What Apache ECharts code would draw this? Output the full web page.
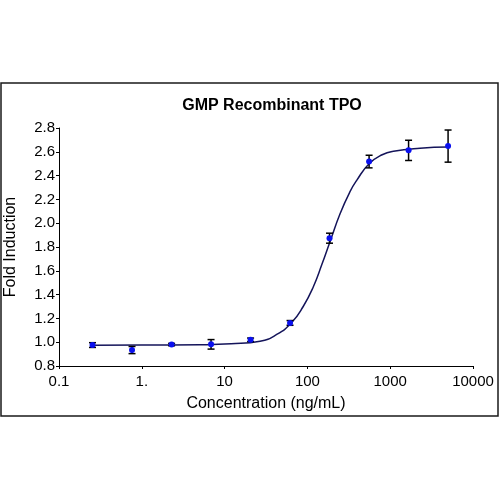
<!DOCTYPE html>
<html>
<head>
<meta charset="utf-8">
<script src="https://cdn.jsdelivr.net/npm/echarts@6/dist/echarts.min.js"></script>
<style>html,body{margin:0;padding:0;background:#fff}#c{width:500px;height:500px}</style>
</head>
<body>
<div id="c"></div>
<script>
var concentrations = [0.254, 0.762, 2.29, 6.86, 20.6, 61.7, 185, 556, 1667, 5000];
var foldInduction = [0.976, 0.934, 0.98, 0.982, 1.02, 1.162, 1.874, 2.518, 2.612, 2.648];
var errorHalf = [0.02, 0.03, 0.01, 0.04, 0.015, 0.02, 0.042, 0.053, 0.085, 0.135];
var curveX = [0.254, 1, 5, 12, 26.8, 42.6, 64.6, 89, 118, 149, 193, 248, 327, 394, 556, 800, 1096, 2290, 5000];
var curveY = [0.975, 0.976, 0.979, 0.987, 1.008, 1.065, 1.165, 1.30, 1.466, 1.65, 1.87, 2.08, 2.265, 2.36, 2.50, 2.575, 2.605, 2.63, 2.64];
var yTicks = ['0.8','1.0','1.2','1.4','1.6','1.8','2.0','2.2','2.4','2.6','2.8'];
var xTickLabels = {'0.1':'0.1','1':'1.','10':'10','100':'100','1000':'1000','10000':'10000'};

var FONT = '"Liberation Sans", Arial, sans-serif';
var chart = echarts.init(document.getElementById('c'), null, {renderer: 'canvas'});

var pts = concentrations.map(function (c, i) { return [c, foldInduction[i]]; });
var errs = concentrations.map(function (c, i) { return [c, foldInduction[i] - errorHalf[i], foldInduction[i] + errorHalf[i]]; });
var curve = curveX.map(function (c, i) { return [c, curveY[i]]; });

chart.setOption({
  animation: false,
  backgroundColor: '#fff',
  title: {
    text: 'GMP Recombinant TPO',
    left: 267, top: 93, textAlign: 'center',
    textStyle: {fontFamily: FONT, fontSize: 16, fontWeight: 'bold', color: '#000'}
  },
  graphic: [{
    type: 'rect', shape: {x: 1, y: 83, width: 497, height: 333},
    style: {fill: 'none', stroke: '#1a1a1a', lineWidth: 1.5}, silent: true, z: 100
  }],
  grid: {left: 59, right: 27, top: 128, bottom: 134, containLabel: false, outerBoundsMode: 'none'},
  xAxis: {
    type: 'log', logBase: 10, min: 0.1, max: 10000,
    name: 'Concentration (ng/mL)', nameLocation: 'middle', nameGap: 30,
    nameTextStyle: {fontFamily: FONT, fontSize: 16, color: '#000'},
    axisLine: {lineStyle: {color: '#000', width: 1}},
    axisTick: {show: true, length: 3, inside: false, lineStyle: {color: '#000'}},
    minorTick: {show: false},
    splitLine: {show: false},
    axisLabel: {
      fontFamily: FONT, fontSize: 15, color: '#000', margin: 8,
      formatter: function (v) {
        var k = String(+v.toPrecision(6));
        return xTickLabels[k] !== undefined ? xTickLabels[k] : k;
      }
    }
  },
  yAxis: {
    type: 'value', min: 0.8, max: 2.8, interval: 0.2,
    name: 'Fold Induction', nameLocation: 'middle', nameGap: 40, nameRotate: 90,
    nameTextStyle: {fontFamily: FONT, fontSize: 16, color: '#000'},
    axisLine: {show: true, lineStyle: {color: '#000', width: 1}},
    axisTick: {show: true, length: 3, lineStyle: {color: '#000'}},
    splitLine: {show: false},
    axisLabel: {
      fontFamily: FONT, fontSize: 15, color: '#000', margin: 4,
      formatter: function (v) {
        var idx = Math.round((v - 0.8) / 0.2);
        return yTicks[idx] !== undefined ? yTicks[idx] : v.toFixed(1);
      }
    }
  },
  series: [
    {
      type: 'line', data: curve, smooth: 0.5, showSymbol: false, symbol: 'none',
      lineStyle: {color: '#14145a', width: 1.5}, z: 2
    },
    {
      type: 'custom', data: errs, z: 3,
      renderItem: function (params, api) {
        var x = api.value(0);
        var lo = api.coord([x, api.value(1)]);
        var hi = api.coord([x, api.value(2)]);
        var hw = 3.5;
        var st = {stroke: '#000', lineWidth: 1.5};
        return {type: 'group', children: [
          {type: 'line', shape: {x1: lo[0], y1: lo[1], x2: hi[0], y2: hi[1]}, style: st},
          {type: 'line', shape: {x1: lo[0] - hw, y1: lo[1], x2: lo[0] + hw, y2: lo[1]}, style: st},
          {type: 'line', shape: {x1: hi[0] - hw, y1: hi[1], x2: hi[0] + hw, y2: hi[1]}, style: st}
        ]};
      }
    },
    {
      type: 'scatter', data: pts, symbol: 'circle', symbolSize: 6,
      itemStyle: {color: '#0a10ee', opacity: 1}, z: 4
    }
  ]
});
</script>
</body>
</html>
